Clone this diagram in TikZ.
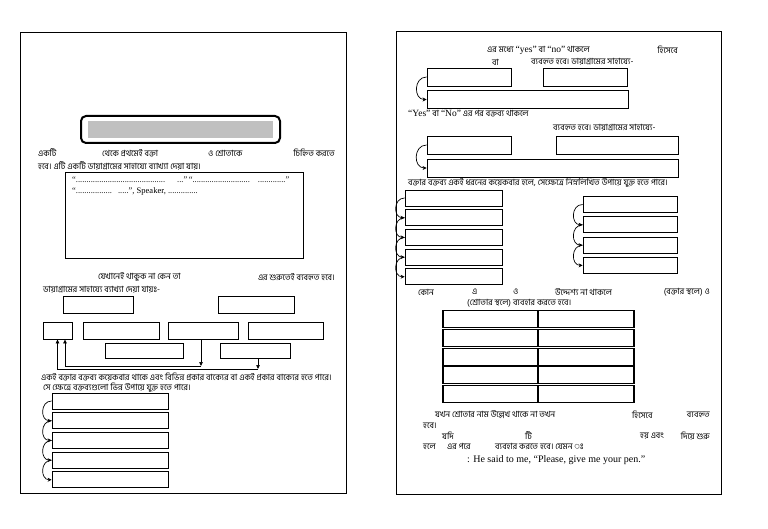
\documentclass[tikz,border=0pt]{standalone}
\usepackage{fontspec}
\setmainfont{Liberation Serif}
\newfontfamily\bn[Script=Bengali]{Hind Siliguri}
\definecolor{wsBar}{RGB}{192, 192, 192}
\usepackage{tikz}
\usetikzlibrary{arrows.meta, positioning}
\tikzset{
  page/.style={rectangle, draw, line width=0.8pt, inner sep=0pt},
  heading/.style={rectangle, rounded corners=5pt, draw, line width=2pt, minimum width=199pt, minimum height=27pt, inner sep=0pt},
  headbar/.style={rectangle, fill=wsBar, minimum width=185pt, minimum height=17pt, inner sep=0pt},
  slot/.style={rectangle, draw, line width=0.8pt, minimum height=#1, inner sep=0pt},
  slot/.default=16pt,
  cell/.style={rectangle, draw, line width=1.1pt, minimum height=17pt, inner sep=0pt},
  bntext/.style={anchor=west, inner sep=0pt, font=\bn\fontsize{8.5}{9}\selectfont},
  bnright/.style={bntext, anchor=east},
  entext/.style={anchor=west, inner sep=0pt, font=\fontsize{8.5}{10}\selectfont},
  myarrow/.style={-{Triangle[length=4pt, width=3.5pt]}, line width=0.7pt},
  looparrow/.style={-{Stealth[length=4pt, width=4pt]}, line width=0.7pt, out=180, in=180, looseness=1.5},
}
\newcommand{\latinword}[1]{{\rmfamily\fontsize{9.5}{10}\selectfont #1}}

\begin{document}
\begin{tikzpicture}[x=1pt, y=-1pt]
  \useasboundingbox (0,0) rectangle (768,529);

  \node[page, minimum width=326pt, minimum height=461pt] (pageL) at (183, 262.5) {};
  \node[page, minimum width=325pt, minimum height=463pt] (pageR) at (558.5, 262.5) {};

  \node[heading] (title) at (180.5, 129.5) {};
  \node[headbar] (titlebar) at (180.5, 129.5) {};

  \node[bntext] (introA) at (38, 153) {একটি};
  \node[bntext] (introB) at (102, 153) {থেকে প্রথমেই বক্তা};
  \node[bntext] (introC) at (208, 153) {ও শ্রোতাকে};
  \node[bnright] (introD) at (335, 153) {চিহ্নিত করতে};
  \node[bntext] (introE) at (38, 166) {হবে। এটি একটি ডায়াগ্রামের সাহায্যে ব্যাখ্যা দেয়া যায়।};

  \node[slot=86pt, minimum width=238pt] (quote) at (184, 215) {};
  \node[entext] (quoteA) at (72, 180) {“..........................................\hspace{12pt}...”\,“...........................\hspace{8pt}.............”};
  \node[entext] (quoteB) at (72, 191) {“.................\hspace{6pt}.....”, Speaker, ..............};

  \node[bntext] (ruleA) at (98, 277) {যেখানেই থাকুক না কেন তা};
  \node[bnright] (ruleB) at (335, 277) {এর শুরুতেই ব্যবহৃত হবে।};
  \node[bntext] (ruleC) at (43, 290) {ডায়াগ্রামের সাহায্যে ব্যাখ্যা দেয়া যায়ঃ-};

  \node[slot=17pt, minimum width=70pt] (partA) at (98, 304.5) {};
  \node[slot=17pt, minimum width=76pt] (partB) at (256, 304.5) {};
  \node[slot=17pt, minimum width=29pt] (partS) at (57.5, 330.5) {};
  \node[slot=17pt, minimum width=76pt] (partC) at (121, 330.5) {};
  \node[slot=17pt, minimum width=70pt] (partD) at (203, 330.5) {};
  \node[slot=17pt, minimum width=75pt] (partE) at (285.5, 330.5) {};
  \node[slot=15pt, minimum width=78pt] (partF) at (144, 350.5) {};
  \node[slot=15pt, minimum width=70pt] (partG) at (255, 350.5) {};
  \coordinate (joinA) at (201, 366);
  \coordinate (joinB) at (258, 369);
  \draw[myarrow] (partD.south -| joinA) -- (joinA);
  \draw[myarrow] (joinA) -| ([xshift=7.5pt]partS.south);
  \draw[myarrow] (partG.south -| joinB) -- (joinB);
  \draw[myarrow] (joinB) -| (partS.south);

  \node[bntext] (manyA) at (41, 377) {একই বক্তার বক্তব্য কয়েকবার থাকে এবং বিভিন্ন প্রকার বাক্যের বা একই প্রকার বাক্যের হতে পারে।};
  \node[bntext] (manyB) at (43, 388) {সে ক্ষেত্রে বক্তব্যগুলো ভিন্ন উপায়ে যুক্ত হতে পারে।};

  \node[slot, minimum width=116pt] (chainA) at (110, 401) {};
  \node[slot, minimum width=116pt] (chainB) at (110, 420.7) {};
  \node[slot, minimum width=116pt] (chainC) at (110, 440.4) {};
  \node[slot, minimum width=116pt] (chainD) at (110, 460.1) {};
  \node[slot, minimum width=116pt] (chainE) at (110, 479.8) {};
  \draw[looparrow] (chainA.west) to (chainB.west);
  \draw[looparrow] (chainB.west) to (chainC.west);
  \draw[looparrow] (chainC.west) to (chainD.west);
  \draw[looparrow] (chainD.west) to (chainE.west);

  \node[bntext] (yesA) at (487, 50) {এর মধ্যে \latinword{“yes”} বা \latinword{“no”} থাকলে};
  \node[bnright] (yesB) at (678, 50) {হিসেবে};
  \node[bntext] (yesC) at (492, 62) {বা};
  \node[bntext] (yesD) at (531, 62) {ব্যবহৃত হবে। ডায়াগ্রামের সাহায্যে-};

  \node[slot=18pt, minimum width=84pt] (yesE) at (469, 77) {};
  \node[slot=18pt, minimum width=84pt] (yesF) at (585, 77) {};
  \node[slot=18pt, minimum width=201pt] (yesG) at (527.5, 99.5) {};
  \draw[looparrow] (yesE.west) to (yesG.west);

  \node[bntext] (afterA) at (408, 114) {\latinword{“Yes”} বা \latinword{“No”} এর পর বক্তব্য থাকলে};
  \node[bntext] (afterB) at (553, 128) {ব্যবহৃত হবে। ডায়াগ্রামের সাহায্যে-};

  \node[slot=18pt, minimum width=84pt] (afterC) at (469, 145) {};
  \node[slot=18pt, minimum width=122pt] (afterD) at (617, 145) {};
  \node[slot=18pt, minimum width=251pt] (afterE) at (552.5, 168) {};
  \draw[looparrow] (afterC.west) to (afterE.west);

  \node[bntext] (sameA) at (408, 183) {বক্তার বক্তব্য একই ধরনের কয়েকবার হলে, সেক্ষেত্রে নিম্নলিখিত উপায়ে যুক্ত হতে পারে।};

  \node[slot, minimum width=97pt] (sameB) at (453.5, 198) {};
  \node[slot, minimum width=97pt] (sameC) at (453.5, 217.7) {};
  \node[slot, minimum width=97pt] (sameD) at (453.5, 237.4) {};
  \node[slot, minimum width=97pt] (sameE) at (453.5, 257.1) {};
  \node[slot, minimum width=97pt] (sameF) at (453.5, 276.8) {};
  \draw[looparrow] (sameB.west) to (sameC.west);
  \draw[looparrow] (sameC.west) to (sameD.west);
  \draw[looparrow] (sameD.west) to (sameE.west);
  \draw[looparrow] (sameE.west) to (sameF.west);

  \node[slot, minimum width=94pt] (sameG) at (630, 204.5) {};
  \node[slot, minimum width=94pt] (sameH) at (630, 224.8) {};
  \node[slot, minimum width=94pt] (sameI) at (630, 245.1) {};
  \node[slot, minimum width=94pt] (sameJ) at (630, 265.4) {};
  \draw[looparrow] (sameG.west) to (sameH.west);
  \draw[looparrow] (sameH.west) to (sameI.west);
  \draw[looparrow] (sameI.west) to (sameJ.west);

  \node[bntext] (noneA) at (418, 292) {কোন};
  \node[bntext] (noneB) at (472, 292) {এ};
  \node[bntext] (noneC) at (513, 292) {ও};
  \node[bntext] (noneD) at (555, 292) {উদ্দেশ্য না থাকলে};
  \node[bnright] (noneE) at (710, 292) {(বক্তার স্থলে) ও};
  \node[bntext] (noneF) at (467, 303) {(শ্রোতার স্থলে) ব্যবহার করতে হবে।};

  \node[cell, minimum width=95pt] (swapA) at (490.5, 319) {};
  \node[cell, minimum width=96pt] (swapB) at (586, 319) {};
  \node[cell, minimum width=95pt] (swapC) at (490.5, 337.8) {};
  \node[cell, minimum width=96pt] (swapD) at (586, 337.8) {};
  \node[cell, minimum width=95pt] (swapE) at (490.5, 356.6) {};
  \node[cell, minimum width=96pt] (swapF) at (586, 356.6) {};
  \node[cell, minimum width=95pt] (swapG) at (490.5, 375.4) {};
  \node[cell, minimum width=96pt] (swapH) at (586, 375.4) {};
  \node[cell, minimum width=95pt] (swapI) at (490.5, 394.2) {};
  \node[cell, minimum width=96pt] (swapJ) at (586, 394.2) {};

  \node[bntext] (nameA) at (435, 415) {যখন শ্রোতার নাম উল্লেখ থাকে না তখন};
  \node[bntext] (nameB) at (632, 415) {হিসেবে};
  \node[bnright] (nameC) at (710, 415) {ব্যবহৃত};
  \node[bntext] (nameD) at (423, 425.5) {হবে।};
  \node[bntext] (askA) at (442, 436) {যদি};
  \node[bntext] (askB) at (525, 436) {টি};
  \node[bntext] (askC) at (640, 436) {হয় এবং};
  \node[bnright] (askD) at (710, 436) {দিয়ে শুরু};
  \node[bntext] (askE) at (423, 446.5) {হলে};
  \node[bntext] (askF) at (447, 446.5) {এর পরে};
  \node[bntext] (askG) at (495, 446.5) {ব্যবহার করতে হবে। যেমন ঃ};
  \node[entext, font=\fontsize{10}{12}\selectfont] (askH) at (467, 460) {: He said to me, “Please, give me your pen.”};
\end{tikzpicture}
\end{document}
